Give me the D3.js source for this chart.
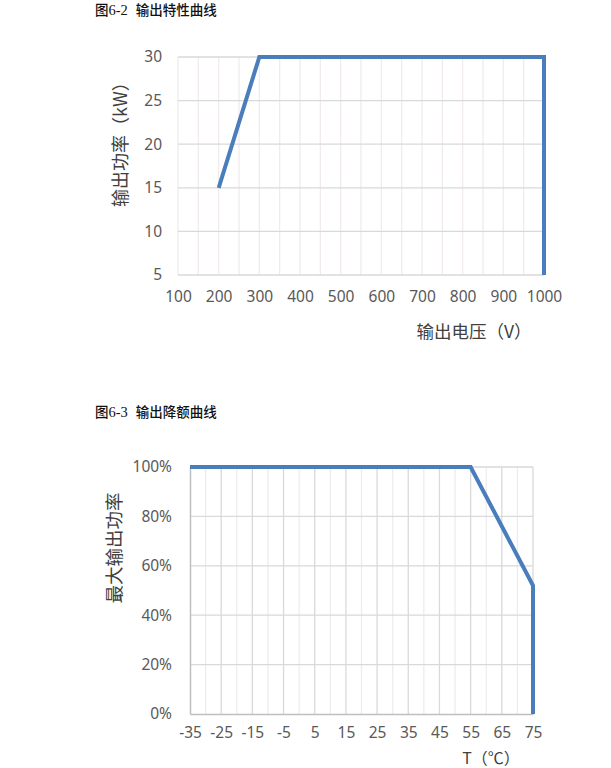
<!DOCTYPE html>
<html><head><meta charset="utf-8">
<script src="https://cdn.jsdelivr.net/npm/d3@7"></script>
<style>body{margin:0;background:#fff}svg{display:block}</style>
</head><body>
<script>
// Chart 1: 输出特性曲线
const c1Title = ["图", "6-2", "输出特性曲线"];
const c1Voltage = [200, 300, 1000, 1000];
const c1Power = [15, 30, 30, 5];
const c1XTicks = [100, 200, 300, 400, 500, 600, 700, 800, 900, 1000];
const c1YTicks = [5, 10, 15, 20, 25, 30];
const c1XLabel = "输出电压（V）";
const c1YLabel = "输出功率（kW）";

// Chart 2: 输出降额曲线
const c2Title = ["图", "6-3", "输出降额曲线"];
const c2Temp = [-35, 55, 75, 75];
const c2Ratio = [1.0, 1.0, 0.52, 0];
const c2XTicks = [-35, -25, -15, -5, 5, 15, 25, 35, 45, 55, 65, 75];
const c2YTicks = [0, 0.2, 0.4, 0.6, 0.8, 1.0];
const c2XLabel = "T（℃）";
const c2YLabel = "最大输出功率";

const W = 611, H = 768;
const svg = d3.select("body").append("svg").attr("width", W).attr("height", H);
const tickFont = "'Noto Sans', 'Open Sans', sans-serif";
const cjk = "'Noto Sans CJK SC', sans-serif";
const lineColor = "#4a7dbb";

function title(parts, x, y) {
  const t = svg.append("text").attr("x", x).attr("y", y)
    .attr("font-size", 13.5).attr("fill", "#111").attr("font-weight", 500);
  t.append("tspan").attr("font-family", cjk).text(parts[0]);
  t.append("tspan").attr("font-family", "'Liberation Serif', serif").attr("font-weight", 400).attr("font-size", 14.5).text(parts[1]);
  t.append("tspan").attr("dx", 8).attr("font-family", cjk).text(parts[2]);
}

// ---------- Chart 1 ----------
title(c1Title, 95, 15);
{
  const x = d3.scaleLinear().domain([100, 1000]).range([178, 544]);
  const y = d3.scaleLinear().domain([5, 30]).range([275, 57]);
  const g = svg.append("g");
  g.selectAll("line.v").data(d3.range(100, 1001, 50)).join("line")
    .attr("x1", d => x(d)).attr("x2", d => x(d)).attr("y1", y(30)).attr("y2", y(5))
    .attr("stroke", "#f0eaec").attr("stroke-width", 1.2);
  g.selectAll("line.h").data(c1YTicks).join("line")
    .attr("x1", x(100)).attr("x2", x(1000)).attr("y1", d => y(d)).attr("y2", d => y(d))
    .attr("stroke", "#d9d9d9").attr("stroke-width", 1.3);
  const xa = svg.append("g").attr("transform", `translate(0,${y(5)})`)
    .call(d3.axisBottom(x).tickValues(c1XTicks).tickFormat(d3.format("d")).tickSize(0).tickPadding(16));
  const ya = svg.append("g").attr("transform", `translate(${x(100)},0)`)
    .call(d3.axisLeft(y).tickValues(c1YTicks).tickFormat(d3.format("d")).tickSize(0).tickPadding(16));
  [xa, ya].forEach(a => {
    a.select(".domain").remove();
    a.selectAll("text").attr("font-family", tickFont).attr("font-size", 15.5).attr("fill", "#595959");
  });
  const pts = c1Voltage.map((v, i) => [x(v), y(c1Power[i])]);
  svg.append("path").attr("d", d3.line()(pts)).attr("fill", "none")
    .attr("stroke", lineColor).attr("stroke-width", 4).attr("stroke-linejoin", "miter");
  svg.append("text").attr("x", 474).attr("y", 338).attr("text-anchor", "middle")
    .attr("font-family", cjk).attr("font-size", 17.5).attr("fill", "#404040").text(c1XLabel);
  svg.append("text").attr("transform", "translate(127,140) rotate(-90)").attr("text-anchor", "middle")
    .attr("font-family", cjk).attr("font-size", 18).attr("fill", "#404040").text(c1YLabel);
}

// ---------- Chart 2 ----------
title(c2Title, 95, 417);
{
  const x = d3.scaleLinear().domain([-35, 75]).range([190, 533]);
  const y = d3.scaleLinear().domain([0, 1]).range([714, 467]);
  const g = svg.append("g");
  g.selectAll("line.v").data(d3.range(-30, 71, 10)).join("line")
    .attr("x1", d => x(d)).attr("x2", d => x(d)).attr("y1", y(1)).attr("y2", y(0))
    .attr("stroke", "#efeaed").attr("stroke-width", 1.2);
  g.selectAll("line.v2").data(c2XTicks.slice(1)).join("line")
    .attr("x1", d => x(d)).attr("x2", d => x(d)).attr("y1", y(1)).attr("y2", y(0))
    .attr("stroke", "#d9d9d9").attr("stroke-width", 1.3);
  g.selectAll("line.h").data(c2YTicks.slice(1)).join("line")
    .attr("x1", x(-35)).attr("x2", x(75)).attr("y1", d => y(d)).attr("y2", d => y(d))
    .attr("stroke", "#d9d9d9").attr("stroke-width", 1.3);
  const xa = svg.append("g").attr("transform", `translate(0,${y(0)})`)
    .call(d3.axisBottom(x).tickValues(c2XTicks).tickFormat(d => String(d)).tickSize(0).tickPadding(13));
  const ya = svg.append("g").attr("transform", `translate(${x(-35)},0)`)
    .call(d3.axisLeft(y).tickValues(c2YTicks).tickFormat(d3.format(".0%")).tickSize(0).tickPadding(18));
  [xa, ya].forEach(a => {
    a.select(".domain").attr("stroke", "#bfbfbf").attr("stroke-width", 1.5);
    a.selectAll("text").attr("font-family", tickFont).attr("font-size", 15.5).attr("fill", "#595959");
  });
  const pts = c2Temp.map((t, i) => [x(t), y(c2Ratio[i])]);
  svg.append("path").attr("d", d3.line()(pts)).attr("fill", "none")
    .attr("stroke", lineColor).attr("stroke-width", 4).attr("stroke-linejoin", "miter");
  svg.append("text").attr("x", 491).attr("y", 764).attr("text-anchor", "middle")
    .attr("font-family", cjk).attr("font-size", 16).attr("fill", "#404040").text(c2XLabel);
  svg.append("text").attr("transform", "translate(121,548) rotate(-90)").attr("text-anchor", "middle")
    .attr("font-family", cjk).attr("font-size", 18.5).attr("fill", "#404040").text(c2YLabel);
}
</script>
</body></html>
